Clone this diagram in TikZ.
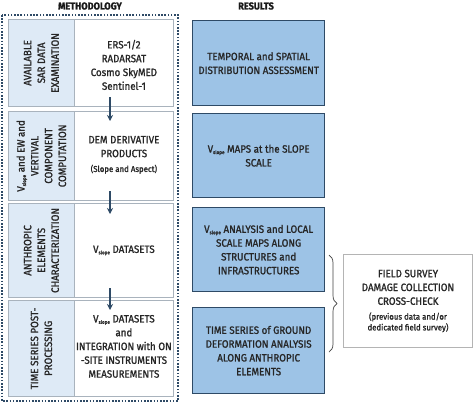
\documentclass[tikz,border=0pt]{standalone}
\usepackage{fontspec}
\setmainfont{Fira Sans}[FakeStretch=0.92, FakeBold=1.3]
\usetikzlibrary{arrows.meta,decorations.pathreplacing}
\definecolor{navy}{HTML}{2E4A66}
\definecolor{boxblue}{HTML}{9DC3E6}
\definecolor{lightcol}{HTML}{DEEAF6}
\definecolor{rowline}{HTML}{A9B3BD}
\definecolor{fieldline}{HTML}{B4B4B4}
\newcommand{\vsl}{V\raisebox{-0.25ex}{\fontsize{5}{5}\selectfont slope}}
\tikzset{
  txt/.style={font=\fontsize{10.6}{13.8}\selectfont, align=center, inner sep=0pt, text=black!85},
  title/.style={font=\bfseries\fontsize{10}{12}\selectfont, inner sep=0pt, text=black!90},
  lcell/.style={draw=rowline, line width=0.8pt, fill=lightcol, minimum width=66pt, inner sep=0pt, anchor=north west},
  wcell/.style={draw=rowline, line width=0.8pt, fill=white, minimum width=99pt, inner sep=0pt, anchor=north west},
  resbox/.style={draw=navy, line width=1.3pt, fill=boxblue, minimum width=132pt, inner sep=0pt, anchor=north west},
  downarrow/.style={draw=navy, line width=1.4pt, -{Stealth[length=6pt,width=6pt]}},
  frame/.style={draw=navy, line width=2pt, dash pattern=on 1.6pt off 1.6pt},
}
\begin{document}
\begin{tikzpicture}[x=1pt,y=-1pt]
\useasboundingbox (0,0) rectangle (474,405);
\node[title] (mt) at (90,6) {METHODOLOGY};
\node[title] (rt) at (256,6) {RESULTS};
\draw[frame] (2,15) rectangle (178,401);
% rows
\node[lcell, minimum height=87pt] (l1) at (8,19) {};
\node[wcell, minimum height=87pt] (w1) at (74,19) {};
\node[lcell, minimum height=89pt] (l2) at (8,111) {};
\node[wcell, minimum height=89pt] (w2) at (74,111) {};
\node[lcell, minimum height=94pt] (l3) at (8,203) {};
\node[wcell, minimum height=94pt] (w3) at (74,203) {};
\node[lcell, minimum height=96pt] (l4) at (8,300) {};
\node[wcell, minimum height=96pt] (w4) at (74,300) {};
% rotated labels
\node[txt, rotate=90] (lt1) at (l1.center) {AVAILABLE\\SAR DATA\\EXAMINATION};
\node[txt, rotate=90] (lt2) at (l2.center) {\vsl{} and EW and\\VERTIVAL\\COMPONENT\\COMPUTATION};
\node[txt, rotate=90] (lt3) at (l3.center) {ANTHROPIC\\ELEMENTS\\CHARACTERIZATION};
\node[txt, rotate=90] (lt4) at (l4.center) {TIME SERIES POST-\\PROCESSING};
% white texts
\node[txt] (wt1) at ([yshift=-2pt]w1.center) {ERS-1/2\\RADARSAT\\Cosmo SkyMED\\Sentinel-1};
\node[txt] (wt2) at ([yshift=1pt]w2.center) {DEM DERIVATIVE\\PRODUCTS\\[1pt]{\fontsize{8.5}{10}\selectfont (Slope and Aspect)}};
\node[txt] (wt3) at (w3.center) {\vsl{} DATASETS};
\node[txt] (wt4) at ([yshift=2pt]w4.center) {\vsl{} DATASETS\\and\\INTEGRATION with ON\\-SITE INSTRUMENTS\\MEASUREMENTS};
% arrows
\coordinate (a1s) at (110,97);
\coordinate (a1e) at (110,121);
\coordinate (a2s) at (110,191);
\coordinate (a2e) at (110,214);
\coordinate (a3s) at (110,288);
\coordinate (a3e) at (110,310);
\draw[downarrow] (a1s) -- (a1e);
\draw[downarrow] (a2s) -- (a2e);
\draw[downarrow] (a3s) -- (a3e);
% result boxes
\node[resbox, minimum height=85pt] (r1) at (192,20) {};
\node[resbox, minimum height=84pt] (r2) at (192,113) {};
\node[resbox, minimum height=84pt] (r3) at (192,207) {};
\node[resbox, minimum height=86pt] (r4) at (192,307) {};
\node[txt] (rt1) at (r1.center) {TEMPORAL and SPATIAL\\DISTRIBUTION ASSESSMENT};
\node[txt] (rt2) at (r2.center) {\vsl{} MAPS at the SLOPE\\SCALE};
\node[txt] (rt3) at (r3.center) {\vsl{} ANALYSIS and LOCAL\\SCALE MAPS ALONG\\STRUCTURES and\\INFRASTRUCTURES};
\node[txt] (rt4) at (r4.center) {TIME SERIES of GROUND\\DEFORMATION ANALYSIS\\ALONG ANTHROPIC\\ELEMENTS};
% brace
\coordinate (bt) at (329,255);
\coordinate (bb) at (329,352);
\draw[black!75, line width=0.7pt, decorate, decoration={brace, amplitude=8pt}] (bt) -- (bb);
% field box
\node[draw=fieldline, line width=1pt, fill=white, minimum width=129pt, minimum height=93pt, inner sep=0pt, anchor=north west] (fb) at (343,254) {};
\node[txt] (ft) at (fb.center) {FIELD SURVEY\\DAMAGE COLLECTION\\CROSS-CHECK\\[1pt]{\fontsize{8.5}{10}\selectfont (previous data and/or}\\[-3pt]{\fontsize{8.5}{10}\selectfont dedicated field survey)}};
\end{tikzpicture}
\end{document}
